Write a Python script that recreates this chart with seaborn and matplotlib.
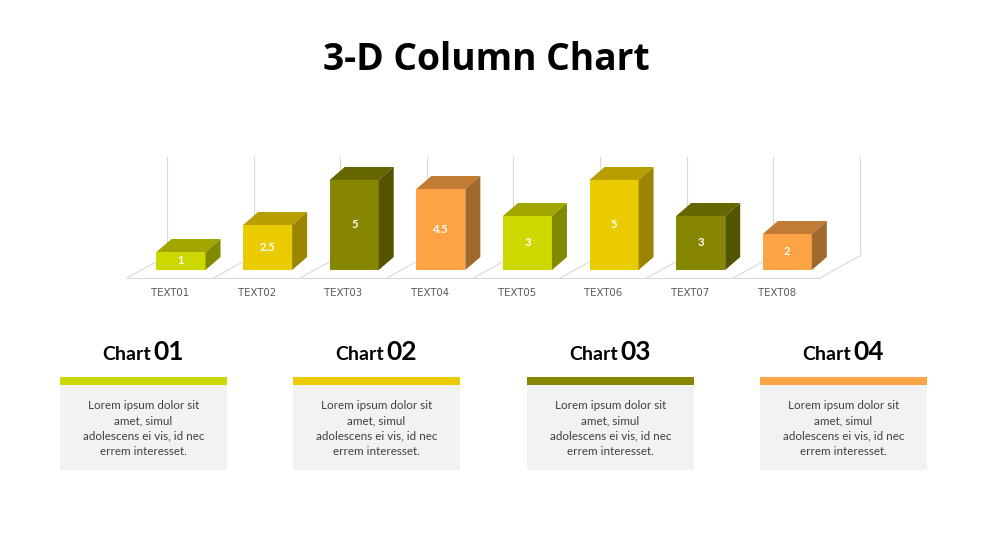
import numpy as np
import pandas as pd
import matplotlib
matplotlib.use("Agg")
import matplotlib.pyplot as plt
from matplotlib.patches import Polygon, Rectangle
import seaborn as sns

# dados do grafico
categorias = ["TEXT01", "TEXT02", "TEXT03", "TEXT04", "TEXT05", "TEXT06", "TEXT07", "TEXT08"]
valores = [1, 2.5, 5, 4.5, 3, 5, 3, 2]
rotulos = ["1", "2.5", "5", "4.5", "3", "5", "3", "2"]

# cores: frente, topo, lateral (ciclo de 4)
cor_frente = ["#CDD800", "#EACB00", "#868600", "#FBA345"]
cor_topo = ["#A2A600", "#B89E00", "#666600", "#C27B33"]
cor_lado = ["#808900", "#9A8400", "#545400", "#A0692E"]

cartoes = ["01", "02", "03", "04"]
texto_cartao = "Lorem ipsum dolor sit\namet, simul\nadolescens ei vis, id nec\nerrem interesset."

sns.set_theme(style="white")
plt.rcParams["font.family"] = ["Lato", "DejaVu Sans"]

W, H = 988, 556
fig = plt.figure(figsize=(W / 100, H / 100), dpi=100)
fig.patch.set_facecolor("white")

# --- grafico 3D falso ---
ax = fig.add_axes([100 / W, (H - 300) / H, 780 / W, 160 / H])

df = pd.DataFrame({"cat": categorias, "val": valores})
paleta = [cor_frente[i % 4] for i in range(len(categorias))]
sns.barplot(data=df, x="cat", y="val", hue="cat", palette=paleta, width=0.566,
            legend=False, ax=ax, saturation=1, zorder=5, linewidth=0)
ax.set_xlim(-0.935, 8.07)
ax.set_ylim(-1.667, 7.22)
ax.axis("off")

dx, dy = 0.173, 0.72
fx0, fy0 = -0.624, -0.444   # canto frontal do piso
bx0, by0 = -0.162, 0.778    # canto traseiro do piso
grade = "#D9D9D9"
n = len(categorias)
for k in range(n + 1):
    ax.plot([fx0 + k, bx0 + k], [fy0, by0], color=grade, lw=0.8, zorder=1)
    ax.plot([bx0 + k, bx0 + k], [by0, 6.28], color=grade, lw=0.8, zorder=1)
ax.plot([fx0, fx0 + n], [fy0, fy0], color=grade, lw=0.8, zorder=1)

for i, p in enumerate(ax.patches[:n]):
    x0 = p.get_x()
    x1 = x0 + p.get_width()
    h = p.get_height()
    topo = Polygon([(x0, h), (x1, h), (x1 + dx, h + dy), (x0 + dx, h + dy)],
                   closed=True, facecolor=cor_topo[i % 4], edgecolor="none", zorder=5)
    lado = Polygon([(x1, 0), (x1 + dx, dy), (x1 + dx, h + dy), (x1, h)],
                   closed=True, facecolor=cor_lado[i % 4], edgecolor="none", zorder=5)
    ax.add_patch(topo)
    ax.add_patch(lado)
    ax.text((x0 + x1) / 2, h / 2, rotulos[i], color="white", fontsize=8,
            fontweight="bold", ha="center", va="center", zorder=6)
    ax.text(fx0 + 0.5 + i, -1.28, categorias[i], color="#595959", fontsize=7.3,
            ha="center", va="center", family=["DejaVu Sans"])

# --- camada de texto e cartoes em pixels ---
ov = fig.add_axes([0, 0, 1, 1])
ov.set_xlim(0, W)
ov.set_ylim(H, 0)
ov.axis("off")
ov.patch.set_alpha(0)

ov.text(486, 60, "3-D Column Chart", fontsize=26.8, fontweight="bold",
        ha="center", va="center", family=["Open Sans", "DejaVu Sans"], color="black")

x_cartoes = [60, 293, 527, 760]
larg = 167
for j, num in enumerate(cartoes):
    x = x_cartoes[j]
    cx = x + larg / 2
    ov.add_patch(Rectangle((x, 385), larg, 85, facecolor="#F2F2F2", edgecolor="none"))
    ov.add_patch(Rectangle((x, 377), larg, 8, facecolor=cor_frente[j], edgecolor="none"))
    ov.text(cx + 7, 360, "Chart", fontsize=14, fontweight="bold", ha="right",
            va="baseline", color="black")
    ov.text(cx + 9.5, 360, num, fontsize=19, fontweight="bold", ha="left",
            va="baseline", color="black")
    ov.text(cx, 428.5, texto_cartao, fontsize=8.4, ha="center", va="center",
            color="#404040", linespacing=1.45)

fig.savefig("out.png", dpi=100)
